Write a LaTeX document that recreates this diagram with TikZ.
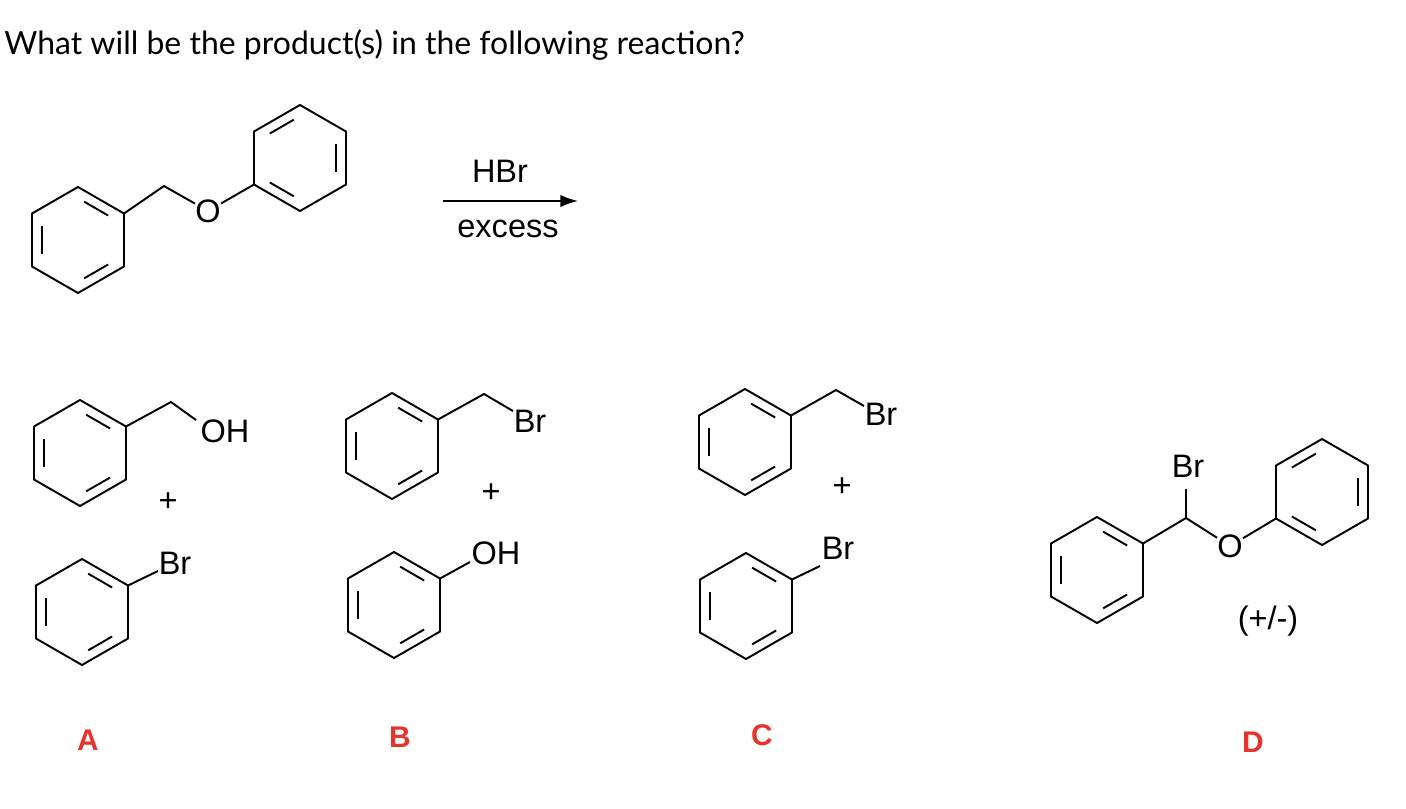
\documentclass[tikz,border=0pt]{standalone}
\usepackage{fontspec}
\setmainfont{Liberation Sans}
\newfontfamily\latofont{Lato}
\usetikzlibrary{calc,arrows.meta}
\definecolor{lblred}{RGB}{228,52,44}
\tikzset{
 bond/.style={line width=1.1pt, line join=miter},
 chem/.style={font=\fontsize{18.5}{20}\selectfont, inner sep=0pt},
 letter/.style={font=\fontsize{17}{19}\selectfont\bfseries, text=lblred, inner sep=0pt},
}
\newcommand\benz[4]{%
 \coordinate (#1) at (#2,#3);
 \coordinate (#1-1) at (#2,#3-53);
 \coordinate (#1-2) at (#2+46,#3-26.5);
 \coordinate (#1-3) at (#2+46,#3+26.5);
 \coordinate (#1-4) at (#2,#3+53);
 \coordinate (#1-5) at (#2-46,#3+26.5);
 \coordinate (#1-6) at (#2-46,#3-26.5);
 \foreach \i in {1,...,6}{\coordinate (#1-\i-in) at ($(#1)!0.79!(#1-\i)$);}
 \draw[bond] (#1-1)--(#1-2)--(#1-3)--(#1-4)--(#1-5)--(#1-6)--cycle;
 \ifnum#4=1
  \innerb{#1}{5}{6}\innerb{#1}{1}{2}\innerb{#1}{3}{4}%
 \else
  \innerb{#1}{2}{3}\innerb{#1}{6}{1}\innerb{#1}{4}{5}%
 \fi
}
\newcommand\innerb[3]{\draw[bond] ($(#1-#2-in)!0.17!(#1-#3-in)$) -- ($(#1-#2-in)!0.83!(#1-#3-in)$);}
\begin{document}
\begin{tikzpicture}[x=0.02cm,y=-0.02cm]
\useasboundingbox (0,0) rectangle (1406,808);
\node[anchor=west, inner sep=0pt, font=\latofont\fontsize{18.2}{20}\selectfont] (title) at (4,45) {What will be the product(s) in the following reaction?};

% reactant
\benz{T1}{78}{240}{1}
\benz{T2}{300}{158}{2}
\coordinate (tc) at (164,186);
\node[chem] (to) at (208,211) {O};
\draw[bond] (T1-2) -- (tc) -- (to);
\draw[bond] (to) -- (T2-5);
\coordinate (arrs) at (443,201);
\coordinate (arre) at (578,201);
\draw[line width=1pt, -{Latex[length=10pt,width=7pt]}] (arrs) -- (arre);
\node[chem] (hbr) at (500,171) {HBr};
\node[chem] (exc) at (508,229) {excess};

% A
\benz{A1}{80}{453}{1}
\coordinate (a1c) at (171,402);
\coordinate (a1e) at (196,420);
\node[chem] (a1oh) at (225,431) {OH};
\draw[bond] (A1-2) -- (a1c) -- (a1e);
\node[chem] (aplus) at (168,502) {+};
\benz{A2}{82}{612}{1}
\coordinate (a2e) at (158,571);
\node[chem] (a2br) at (175,563) {Br};
\draw[bond] (A2-2) -- (a2e);

% B
\benz{B1}{392}{446}{1}
\coordinate (b1c) at (484,394);
\coordinate (b1e) at (513,411);
\node[chem] (b1br) at (530,421) {Br};
\draw[bond] (B1-2) -- (b1c) -- (b1e);
\node[chem] (bplus) at (491,493) {+};
\benz{B2}{394}{605}{1}
\coordinate (b2e) at (470,562);
\node[chem] (b2oh) at (496,553) {OH};
\draw[bond] (B2-2) -- (b2e);

% C
\benz{C1}{745}{442}{1}
\coordinate (c1c) at (836,390);
\coordinate (c1e) at (864,406);
\node[chem] (c1br) at (881,414) {Br};
\draw[bond] (C1-2) -- (c1c) -- (c1e);
\node[chem] (cplus) at (842,487) {+};
\benz{C2}{746}{606}{1}
\coordinate (c2e) at (820,566);
\node[chem] (c2br) at (838,548) {Br};
\draw[bond] (C2-2) -- (c2e);

% D
\benz{D1}{1097}{570}{1}
\benz{D2}{1322}{492}{2}
\coordinate (dc) at (1186,518);
\coordinate (dbe) at (1186,489);
\node[chem] (dbr) at (1188,466) {Br};
\node[chem] (do) at (1230,546) {O};
\draw[bond] (D1-2) -- (dc) -- (dbe);
\draw[bond] (dc) -- (do);
\draw[bond] (do) -- (D2-5);
\node[chem] (dpm) at (1268,621) {(+/-)};

% letters
\node[letter] (la) at (88,740) {A};
\node[letter] (lb) at (400,737) {B};
\node[letter] (lc) at (762,735) {C};
\node[letter] (ld) at (1253,742) {D};
\end{tikzpicture}
\end{document}
